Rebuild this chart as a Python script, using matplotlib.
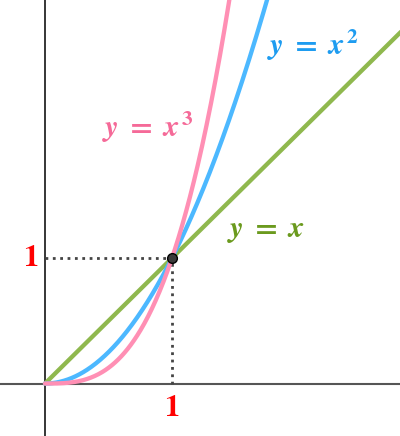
import matplotlib
matplotlib.use('Agg')
import matplotlib.pyplot as plt
import numpy as np

plt.rcParams['mathtext.fontset'] = 'custom'
plt.rcParams['mathtext.rm'] = 'STIXGeneral:bold'
plt.rcParams['mathtext.it'] = 'STIXGeneral:italic:bold'
plt.rcParams['mathtext.bf'] = 'STIXGeneral:bold'

# curves y = x, x^2, x^3 and the point where they meet
powers = [1, 2, 3]
curve_colors = ['#8fb84e', '#4cb8ff', '#ff8fb4']
label_colors = ['#6b9a1e', '#1e9cf0', '#f56a98']
labels = [r'$y\;=\;x$', r'$y\;=\;x^{2}$', r'$y\;=\;x^{3}$']
label_pos = [(1.74, 1.22), (2.11, 2.7), (0.81, 2.04)]
meet = (1, 1)

fig = plt.figure(figsize=(4, 4.36), dpi=100)
ax = fig.add_axes([0, 0, 1, 1])
ax.set_xlim(-0.354, 2.795)
ax.set_ylim(-0.418, 3.056)
ax.axis('off')

ax.axhline(0, color='#555555', lw=1.5, zorder=1)
ax.axvline(0, color='black', lw=1.1, zorder=1)

x = np.linspace(0, 3, 600)
for p, c in zip(powers, curve_colors):
    ax.plot(x, x ** p, color=c, lw=3.1, solid_capstyle='round', zorder=3)

ax.plot([0, meet[0]], [meet[1], meet[1]], ls=':', color='#444444', lw=2, zorder=2)
ax.plot([meet[0], meet[0]], [0, meet[1]], ls=':', color='#444444', lw=2, zorder=2)
ax.plot(*meet, 'o', ms=7, mfc='#3a3a3a', mec='black', mew=1, zorder=5)

for lab, c, (lx, ly) in zip(labels, label_colors, label_pos):
    ax.text(lx, ly, lab, color=c, fontsize=22, ha='center', va='center')

ax.text(-0.11, 1, '1', color='red', fontsize=22, fontfamily='STIXGeneral',
        fontweight='bold', ha='center', va='center')
ax.text(1, -0.2, '1', color='red', fontsize=22, fontfamily='STIXGeneral',
        fontweight='bold', ha='center', va='center')

fig.savefig('out.png', dpi=100)
